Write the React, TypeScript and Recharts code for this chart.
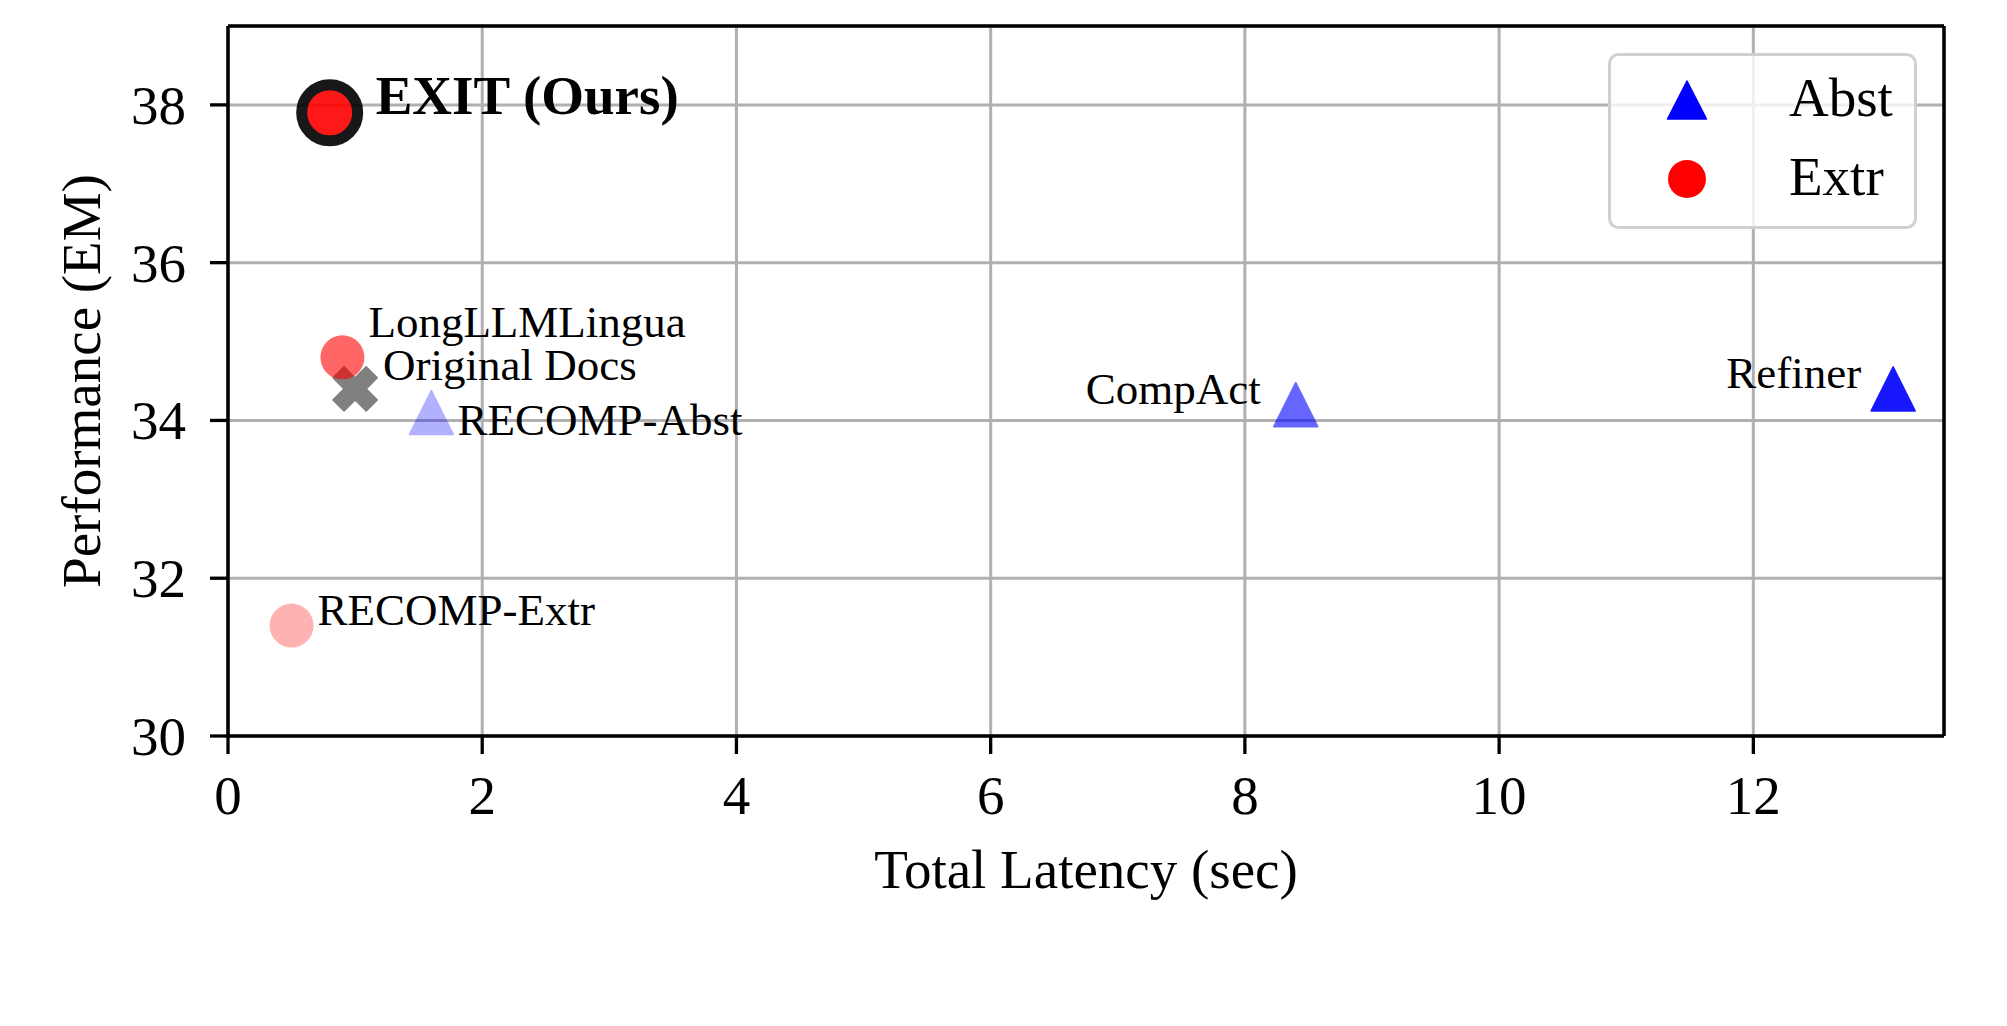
import React from 'react';
import {
  ScatterChart,
  Scatter,
  XAxis,
  YAxis,
  CartesianGrid,
  Legend,
  ReferenceLine,
  Label,
} from 'recharts';

// ---------------- data ----------------
const methods = ['Original Docs', 'RECOMP-Abst', 'CompAct', 'Refiner', 'RECOMP-Extr', 'LongLLMLingua', 'EXIT (Ours)'];
const latencySec = [1.0, 1.6, 8.4, 13.1, 0.5, 0.9, 0.8];
const performanceEM = [34.4, 34.1, 34.2, 34.4, 31.4, 34.8, 37.9];
const methodGroup = ['Base', 'Abst', 'Abst', 'Abst', 'Extr', 'Extr', 'Extr'];
const groups = ['Base', 'Abst', 'Extr'];
const xTicks = [0, 2, 4, 6, 8, 10, 12];
const yTicks = [30, 32, 34, 36, 38];
const legendLabels = ['Abst', 'Extr'];
const xLabel = 'Total Latency (sec)';
const yLabel = 'Performance (EM)';

const rows = methods.map((name, i) => ({
  name,
  latency: latencySec[i],
  performance: performanceEM[i],
  group: methodGroup[i],
}));

// ---------------- styles ----------------
const FONT = "'Liberation Serif', 'Times New Roman', Times, serif";

type MStyle = {
  shape: 'x' | 'tri' | 'circle';
  fill: string;
  opacity: number;
  size: number;
  stroke?: string;
  strokeWidth?: number;
  dx: number;
  dy: number;
  anchor: 'start' | 'end';
  bold?: boolean;
  fontSize: number;
};

const markerStyle: Record<string, MStyle> = {
  'Original Docs': { shape: 'x', fill: '#808080', opacity: 1, size: 47, dx: 28, dy: -9, anchor: 'start', fontSize: 45 },
  'RECOMP-Abst': { shape: 'tri', fill: '#0000ff', opacity: 0.3, size: 44, dx: 26, dy: 22, anchor: 'start', fontSize: 45 },
  CompAct: { shape: 'tri', fill: '#0000ff', opacity: 0.6, size: 44, dx: -35, dy: -1, anchor: 'end', fontSize: 45 },
  Refiner: { shape: 'tri', fill: '#0000ff', opacity: 0.9, size: 44, dx: -32, dy: -1, anchor: 'end', fontSize: 45 },
  'RECOMP-Extr': { shape: 'circle', fill: '#ff0000', opacity: 0.3, size: 44, dx: 26, dy: -1, anchor: 'start', fontSize: 45 },
  LongLLMLingua: { shape: 'circle', fill: '#ff0000', opacity: 0.6, size: 44, dx: 26, dy: -20, anchor: 'start', fontSize: 45 },
  'EXIT (Ours)': {
    shape: 'circle', fill: '#ff0000', opacity: 0.9, size: 56, stroke: '#000000', strokeWidth: 11,
    dx: 46, dy: 1, anchor: 'start', bold: true, fontSize: 55,
  },
};

function xPath(cx: number, cy: number, size: number) {
  const base = [
    [-1, -3], [1, -3], [1, -1], [3, -1], [3, 1], [1, 1],
    [1, 3], [-1, 3], [-1, 1], [-3, 1], [-3, -1], [-1, -1],
  ];
  const s = size / 6;
  const c = Math.SQRT1_2;
  return base
    .map(([x, y], i) => {
      const rx = (x - y) * c * s;
      const ry = (x + y) * c * s;
      return `${i === 0 ? 'M' : 'L'}${cx + rx},${cy + ry}`;
    })
    .join(' ') + ' Z';
}

function MarkerShape(props: any) {
  const { cx, cy, payload } = props;
  if (cx == null || cy == null || !payload) return <g />;
  const st = markerStyle[payload.name];
  const h = st.size / 2;
  let mark: React.ReactNode = null;
  if (st.shape === 'circle') {
    mark = (
      <circle cx={cx} cy={cy} r={h} fill={st.fill} stroke={st.stroke ?? 'none'} strokeWidth={st.strokeWidth ?? 0} />
    );
  } else if (st.shape === 'tri') {
    mark = (
      <polygon
        points={`${cx},${cy - h} ${cx - h},${cy + h} ${cx + h},${cy + h}`}
        fill={st.fill}
        stroke={st.fill}
        strokeWidth={1.5}
        strokeLinejoin="round"
      />
    );
  } else {
    mark = <path d={xPath(cx, cy, st.size)} fill={st.fill} stroke={st.fill} strokeWidth={1.5} strokeLinejoin="round" />;
  }
  return (
    <g>
      <g opacity={st.opacity}>{mark}</g>
      <text
        x={cx + st.dx}
        y={cy + st.dy}
        textAnchor={st.anchor}
        fontFamily={FONT}
        fontSize={st.fontSize}
        fontWeight={st.bold ? 'bold' : 'normal'}
        fill="#000"
      >
        {payload.name}
      </text>
    </g>
  );
}

function XTick(props: any) {
  const { x, y, payload } = props;
  return (
    <text x={x} y={y + 60} textAnchor="middle" fontFamily={FONT} fontSize={55} fill="#000">
      {payload.value}
    </text>
  );
}

function YTick(props: any) {
  const { x, y, payload } = props;
  return (
    <text x={x - 24} y={y + 19} textAnchor="end" fontFamily={FONT} fontSize={55} fill="#000">
      {payload.value}
    </text>
  );
}

function XAxisLabel(props: any) {
  const vb = props.viewBox || { x: 228, y: 736, width: 1716, height: 100 };
  return (
    <text x={vb.x + vb.width / 2} y={vb.y + 152} textAnchor="middle" fontFamily={FONT} fontSize={55} fill="#000">
      {xLabel}
    </text>
  );
}

function YAxisLabel(props: any) {
  const vb = props.viewBox || { x: 108, y: 26, width: 120, height: 710 };
  const x = vb.x - 8;
  const y = vb.y + vb.height / 2;
  return (
    <text x={x} y={y} transform={`rotate(-90 ${x} ${y})`} textAnchor="middle" fontFamily={FONT} fontSize={55} fill="#000">
      {yLabel}
    </text>
  );
}

const legendColors: Record<string, string> = { Abst: '#0000ff', Extr: '#ff0000' };

function LegendBox() {
  return (
    <svg width={309} height={176} style={{ display: 'block' }}>
      <rect x={1.5} y={1.5} width={306} height={173} rx={9} fill="#ffffff" fillOpacity={0.8} stroke="#d0d0d0" strokeWidth={3} />
      {legendLabels.map((lab, i) => {
        const cy = 47 + i * 79;
        return (
          <g key={lab}>
            {lab === 'Abst' ? (
              <polygon
                points={`79,${cy - 19} ${59.5},${cy + 19} ${98.5},${cy + 19}`}
                fill={legendColors[lab]}
                stroke={legendColors[lab]}
                strokeWidth={1.5}
                strokeLinejoin="round"
              />
            ) : (
              <circle cx={79} cy={cy} r={19} fill={legendColors[lab]} />
            )}
            <text x={181} y={cy + 16} fontFamily={FONT} fontSize={55} fill="#000">
              {lab}
            </text>
          </g>
        );
      })}
    </svg>
  );
}

export default function App() {
  return (
    <div style={{ position: 'absolute', left: 0, top: 0, width: 2007, height: 1026, background: '#ffffff' }}>
      <ScatterChart width={2007} height={1026} margin={{ top: 26, right: 63, left: 108, bottom: 190 }}>
        <CartesianGrid stroke="#b0b0b0" strokeWidth={3} />
        <XAxis
          type="number"
          dataKey="latency"
          domain={[0, 13.5]}
          ticks={xTicks}
          interval={0}
          allowDataOverflow
          height={100}
          tickSize={18}
          tickMargin={0}
          axisLine={{ stroke: '#000', strokeWidth: 3.5 }}
          tickLine={{ stroke: '#000', strokeWidth: 3.3 }}
          tick={<XTick />}
        >
          <Label content={<XAxisLabel />} />
        </XAxis>
        <YAxis
          type="number"
          dataKey="performance"
          domain={[30, 39]}
          ticks={yTicks}
          interval={0}
          allowDataOverflow
          width={120}
          tickSize={18}
          tickMargin={0}
          axisLine={{ stroke: '#000', strokeWidth: 3.5 }}
          tickLine={{ stroke: '#000', strokeWidth: 3.3 }}
          tick={<YTick />}
        >
          <Label content={<YAxisLabel />} />
        </YAxis>
        <ReferenceLine y={39} stroke="#000" strokeWidth={3.5} />
        <ReferenceLine x={13.5} stroke="#000" strokeWidth={3.5} />
        {groups.map((g) => (
          <Scatter
            key={g}
            name={g}
            data={rows.filter((r) => r.group === g)}
            shape={(p: any) => <MarkerShape {...p} />}
            isAnimationActive={false}
          />
        ))}
        <Legend
          layout="vertical"
          align="center"
          verticalAlign="middle"
          content={() => <LegendBox />}
          wrapperStyle={{ position: 'absolute', left: 1608, top: 53, width: 309, height: 176 }}
        />
      </ScatterChart>
    </div>
  );
}
